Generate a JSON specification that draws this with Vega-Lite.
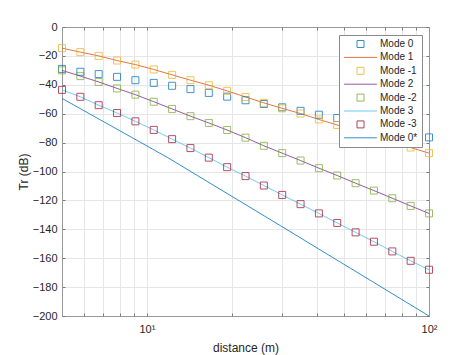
{
  "$schema": "https://vega.github.io/schema/vega-lite/v6.json",
  "width": 367,
  "height": 289,
  "autosize": {"type": "none"},
  "padding": {"left": 62, "top": 27, "right": 45, "bottom": 39},
  "background": "white",
  "config": {
    "view": {"stroke": null},
    "font": "Liberation Sans",
    "axis": {"labelFont": "Liberation Sans", "titleFont": "Liberation Sans", "labelColor": "#262626", "titleColor": "#262626", "titleFontWeight": "normal"}
  },
  "datasets": {
    "curves": [
      {"series": "Mode 0", "x": 5, "y": -29},
      {"series": "Mode 0", "x": 5.808, "y": -31},
      {"series": "Mode 0", "x": 6.746, "y": -32.6},
      {"series": "Mode 0", "x": 7.837, "y": -34.5},
      {"series": "Mode 0", "x": 9.103, "y": -36.8},
      {"series": "Mode 0", "x": 10.574, "y": -38.7},
      {"series": "Mode 0", "x": 12.282, "y": -40.7},
      {"series": "Mode 0", "x": 14.267, "y": -43},
      {"series": "Mode 0", "x": 16.572, "y": -45.6},
      {"series": "Mode 0", "x": 19.25, "y": -48.2},
      {"series": "Mode 0", "x": 22.361, "y": -50.7},
      {"series": "Mode 0", "x": 25.974, "y": -53.3},
      {"series": "Mode 0", "x": 30.171, "y": -55.6},
      {"series": "Mode 0", "x": 35.046, "y": -58},
      {"series": "Mode 0", "x": 40.709, "y": -60.7},
      {"series": "Mode 0", "x": 47.287, "y": -63},
      {"series": "Mode 0", "x": 54.928, "y": -65.5},
      {"series": "Mode 0", "x": 63.804, "y": -68.2},
      {"series": "Mode 0", "x": 74.114, "y": -71},
      {"series": "Mode 0", "x": 86.09, "y": -73.7},
      {"series": "Mode 0", "x": 100, "y": -76.4},

      {"series": "Mode 1", "x": 5, "y": -14.6},
      {"series": "Mode 1", "x": 5.808, "y": -17.4},
      {"series": "Mode 1", "x": 6.746, "y": -20},
      {"series": "Mode 1", "x": 7.837, "y": -23.2},
      {"series": "Mode 1", "x": 9.103, "y": -26},
      {"series": "Mode 1", "x": 10.574, "y": -29.4},
      {"series": "Mode 1", "x": 12.282, "y": -33.1},
      {"series": "Mode 1", "x": 14.267, "y": -36.8},
      {"series": "Mode 1", "x": 16.572, "y": -40.3},
      {"series": "Mode 1", "x": 19.25, "y": -44.2},
      {"series": "Mode 1", "x": 22.361, "y": -48.4},
      {"series": "Mode 1", "x": 25.974, "y": -52.5},
      {"series": "Mode 1", "x": 30.171, "y": -56.3},
      {"series": "Mode 1", "x": 35.046, "y": -59.9},
      {"series": "Mode 1", "x": 40.709, "y": -64},
      {"series": "Mode 1", "x": 47.287, "y": -67.8},
      {"series": "Mode 1", "x": 54.928, "y": -71.5},
      {"series": "Mode 1", "x": 63.804, "y": -75.3},
      {"series": "Mode 1", "x": 74.114, "y": -79.3},
      {"series": "Mode 1", "x": 86.09, "y": -83.4},
      {"series": "Mode 1", "x": 100, "y": -87.3},

      {"series": "Mode -1", "x": 5, "y": -14.6},
      {"series": "Mode -1", "x": 5.808, "y": -17.4},
      {"series": "Mode -1", "x": 6.746, "y": -20},
      {"series": "Mode -1", "x": 7.837, "y": -23.2},
      {"series": "Mode -1", "x": 9.103, "y": -26},
      {"series": "Mode -1", "x": 10.574, "y": -29.4},
      {"series": "Mode -1", "x": 12.282, "y": -33.1},
      {"series": "Mode -1", "x": 14.267, "y": -36.8},
      {"series": "Mode -1", "x": 16.572, "y": -40.3},
      {"series": "Mode -1", "x": 19.25, "y": -44.2},
      {"series": "Mode -1", "x": 22.361, "y": -48.4},
      {"series": "Mode -1", "x": 25.974, "y": -52.5},
      {"series": "Mode -1", "x": 30.171, "y": -56.3},
      {"series": "Mode -1", "x": 35.046, "y": -59.9},
      {"series": "Mode -1", "x": 40.709, "y": -64},
      {"series": "Mode -1", "x": 47.287, "y": -67.8},
      {"series": "Mode -1", "x": 54.928, "y": -71.5},
      {"series": "Mode -1", "x": 63.804, "y": -75.3},
      {"series": "Mode -1", "x": 74.114, "y": -79.3},
      {"series": "Mode -1", "x": 86.09, "y": -83.4},
      {"series": "Mode -1", "x": 100, "y": -87.3},

      {"series": "Mode 2", "x": 5, "y": -30},
      {"series": "Mode 2", "x": 5.808, "y": -34},
      {"series": "Mode 2", "x": 6.746, "y": -38},
      {"series": "Mode 2", "x": 7.837, "y": -42.5},
      {"series": "Mode 2", "x": 9.103, "y": -46.8},
      {"series": "Mode 2", "x": 10.574, "y": -51.7},
      {"series": "Mode 2", "x": 12.282, "y": -56.7},
      {"series": "Mode 2", "x": 14.267, "y": -61.7},
      {"series": "Mode 2", "x": 16.572, "y": -66.4},
      {"series": "Mode 2", "x": 19.25, "y": -71.3},
      {"series": "Mode 2", "x": 22.361, "y": -76.6},
      {"series": "Mode 2", "x": 25.974, "y": -82.2},
      {"series": "Mode 2", "x": 30.171, "y": -87.3},
      {"series": "Mode 2", "x": 35.046, "y": -92.4},
      {"series": "Mode 2", "x": 40.709, "y": -97.7},
      {"series": "Mode 2", "x": 47.287, "y": -102.8},
      {"series": "Mode 2", "x": 54.928, "y": -108.1},
      {"series": "Mode 2", "x": 63.804, "y": -113.2},
      {"series": "Mode 2", "x": 74.114, "y": -118.5},
      {"series": "Mode 2", "x": 86.09, "y": -123.8},
      {"series": "Mode 2", "x": 100, "y": -129},

      {"series": "Mode -2", "x": 5, "y": -30},
      {"series": "Mode -2", "x": 5.808, "y": -34},
      {"series": "Mode -2", "x": 6.746, "y": -38},
      {"series": "Mode -2", "x": 7.837, "y": -42.5},
      {"series": "Mode -2", "x": 9.103, "y": -46.8},
      {"series": "Mode -2", "x": 10.574, "y": -51.7},
      {"series": "Mode -2", "x": 12.282, "y": -56.7},
      {"series": "Mode -2", "x": 14.267, "y": -61.7},
      {"series": "Mode -2", "x": 16.572, "y": -66.4},
      {"series": "Mode -2", "x": 19.25, "y": -71.3},
      {"series": "Mode -2", "x": 22.361, "y": -76.6},
      {"series": "Mode -2", "x": 25.974, "y": -82.2},
      {"series": "Mode -2", "x": 30.171, "y": -87.3},
      {"series": "Mode -2", "x": 35.046, "y": -92.4},
      {"series": "Mode -2", "x": 40.709, "y": -97.7},
      {"series": "Mode -2", "x": 47.287, "y": -102.8},
      {"series": "Mode -2", "x": 54.928, "y": -108.1},
      {"series": "Mode -2", "x": 63.804, "y": -113.2},
      {"series": "Mode -2", "x": 74.114, "y": -118.5},
      {"series": "Mode -2", "x": 86.09, "y": -123.8},
      {"series": "Mode -2", "x": 100, "y": -129},

      {"series": "Mode 3", "x": 5, "y": -43.5},
      {"series": "Mode 3", "x": 5.808, "y": -48.3},
      {"series": "Mode 3", "x": 6.746, "y": -54.1},
      {"series": "Mode 3", "x": 7.837, "y": -59.5},
      {"series": "Mode 3", "x": 9.103, "y": -65.3},
      {"series": "Mode 3", "x": 10.574, "y": -71.2},
      {"series": "Mode 3", "x": 12.282, "y": -77.6},
      {"series": "Mode 3", "x": 14.267, "y": -83.8},
      {"series": "Mode 3", "x": 16.572, "y": -90.4},
      {"series": "Mode 3", "x": 19.25, "y": -97},
      {"series": "Mode 3", "x": 22.361, "y": -103.2},
      {"series": "Mode 3", "x": 25.974, "y": -109.7},
      {"series": "Mode 3", "x": 30.171, "y": -116.2},
      {"series": "Mode 3", "x": 35.046, "y": -122.6},
      {"series": "Mode 3", "x": 40.709, "y": -129},
      {"series": "Mode 3", "x": 47.287, "y": -135.6},
      {"series": "Mode 3", "x": 54.928, "y": -142.1},
      {"series": "Mode 3", "x": 63.804, "y": -148.6},
      {"series": "Mode 3", "x": 74.114, "y": -155.3},
      {"series": "Mode 3", "x": 86.09, "y": -161.8},
      {"series": "Mode 3", "x": 100, "y": -168},

      {"series": "Mode -3", "x": 5, "y": -43.5},
      {"series": "Mode -3", "x": 5.808, "y": -48.3},
      {"series": "Mode -3", "x": 6.746, "y": -54.1},
      {"series": "Mode -3", "x": 7.837, "y": -59.5},
      {"series": "Mode -3", "x": 9.103, "y": -65.3},
      {"series": "Mode -3", "x": 10.574, "y": -71.2},
      {"series": "Mode -3", "x": 12.282, "y": -77.6},
      {"series": "Mode -3", "x": 14.267, "y": -83.8},
      {"series": "Mode -3", "x": 16.572, "y": -90.4},
      {"series": "Mode -3", "x": 19.25, "y": -97},
      {"series": "Mode -3", "x": 22.361, "y": -103.2},
      {"series": "Mode -3", "x": 25.974, "y": -109.7},
      {"series": "Mode -3", "x": 30.171, "y": -116.2},
      {"series": "Mode -3", "x": 35.046, "y": -122.6},
      {"series": "Mode -3", "x": 40.709, "y": -129},
      {"series": "Mode -3", "x": 47.287, "y": -135.6},
      {"series": "Mode -3", "x": 54.928, "y": -142.1},
      {"series": "Mode -3", "x": 63.804, "y": -148.6},
      {"series": "Mode -3", "x": 74.114, "y": -155.3},
      {"series": "Mode -3", "x": 86.09, "y": -161.8},
      {"series": "Mode -3", "x": 100, "y": -168},

      {"series": "Mode 0*", "x": 5, "y": -49.4},
      {"series": "Mode 0*", "x": 11.88, "y": -90.5},
      {"series": "Mode 0*", "x": 29.74, "y": -137.5},
      {"series": "Mode 0*", "x": 100, "y": -200}
    ]
  },
  "data": {"name": "curves"},
  "layer": [
    {
      "transform": [{"filter": {"field": "series", "oneOf": ["Mode 1", "Mode 2", "Mode 3", "Mode 0*"]}}],
      "mark": {"type": "line", "strokeWidth": 1, "opacity": 0.8, "clip": true},
      "encoding": {
        "x": {
          "field": "x", "type": "quantitative",
          "scale": {"type": "log", "domain": [5, 100], "nice": false},
          "axis": {
            "orient": "bottom",
            "values": [6, 7, 8, 9, 10, 20, 30, 40, 50, 60, 70, 80, 90, 100],
            "labelExpr": "datum.value == 10 ? '10¹' : (datum.value == 100 ? '10²' : '')",
            "labelFlush": false, "labelOverlap": false,
            "labelFontSize": 11, "labelPadding": 10, "tickSize": -3, "tickColor": "#777777",
            "domainColor": "#999999", "grid": true, "gridColor": "#e6e6e6",
            "title": "distance (m)", "titleFontSize": 12, "titleY": 35.5, "titleBaseline": "alphabetic"
          }
        },
        "y": {
          "field": "y", "type": "quantitative",
          "scale": {"domain": [-200, 0], "nice": false, "zero": false},
          "axis": {
            "orient": "left",
            "values": [-200, -180, -160, -140, -120, -100, -80, -60, -40, -20, 0],
            "labelFontSize": 11, "labelPadding": 8, "tickSize": -3, "tickColor": "#777777",
            "domainColor": "#999999", "grid": true, "gridColor": "#e6e6e6",
            "title": "Tr (dB)", "titleFontSize": 12, "titleX": -39, "titleY": 144.5, "titleBaseline": "middle"
          }
        },
        "stroke": {
          "field": "series", "type": "nominal", "legend": null,
          "scale": {
            "domain": ["Mode 1", "Mode 2", "Mode 3", "Mode 0*"],
            "range": ["#D95319", "#7E2F8E", "#4DBEEE", "#0072BD"]
          }
        },
        "detail": {"field": "series"}
      }
    },
    {
      "transform": [{"filter": {"field": "series", "oneOf": ["Mode 0", "Mode -1", "Mode -2", "Mode -3"]}}],
      "mark": {"type": "point", "filled": false, "size": 49, "strokeWidth": 1, "opacity": 0.75},
      "encoding": {
        "x": {
          "field": "x", "type": "quantitative",
          "scale": {"type": "log", "domain": [5, 100], "nice": false},
          "axis": {
            "orient": "top",
            "values": [6, 7, 8, 9, 10, 20, 30, 40, 50, 60, 70, 80, 90, 100],
            "labels": false, "tickSize": -3, "tickColor": "#777777",
            "domainColor": "#999999", "grid": false, "title": null
          }
        },
        "y": {
          "field": "y", "type": "quantitative",
          "scale": {"domain": [-200, 0], "nice": false, "zero": false},
          "axis": {
            "orient": "right",
            "values": [-200, -180, -160, -140, -120, -100, -80, -60, -40, -20, 0],
            "labels": false, "tickSize": -3, "tickColor": "#777777",
            "domainColor": "#999999", "grid": false, "title": null
          }
        },
        "color": {
          "field": "series", "type": "nominal",
          "scale": {
            "domain": ["Mode 0", "Mode 1", "Mode -1", "Mode 2", "Mode -2", "Mode 3", "Mode -3", "Mode 0*"],
            "range": ["#0072BD", "#D95319", "#EDB120", "#7E2F8E", "#77AC30", "#4DBEEE", "#A2142F", "#0072BD"]
          },
          "legend": {
            "title": null, "orient": "none", "legendX": 277, "legendY": 8,
            "fillColor": "white", "strokeColor": "#8a8a8a", "padding": 4,
            "labelFont": "Liberation Sans", "labelFontSize": 10, "labelColor": "#262626",
            "symbolSize": 49, "symbolStrokeWidth": 1, "symbolOpacity": 0.8, "symbolOffset": 12.5,
            "labelOffset": 14.5, "rowPadding": 2.4, "zindex": 2
          }
        },
        "shape": {
          "field": "series", "type": "nominal",
          "scale": {
            "domain": ["Mode 0", "Mode 1", "Mode -1", "Mode 2", "Mode -2", "Mode 3", "Mode -3", "Mode 0*"],
            "range": ["square", "M-4.7,0H4.7", "square", "M-4.7,0H4.7", "square", "M-4.7,0H4.7", "square", "M-4.7,0H4.7"]
          },
          "legend": {
            "title": null, "orient": "none", "legendX": 277, "legendY": 8,
            "fillColor": "white", "strokeColor": "#8a8a8a", "padding": 4,
            "labelFont": "Liberation Sans", "labelFontSize": 10, "labelColor": "#262626",
            "symbolSize": 49, "symbolStrokeWidth": 1, "symbolOpacity": 0.8, "symbolOffset": 12.5,
            "labelOffset": 14.5, "rowPadding": 2.4, "zindex": 2
          }
        }
      }
    }
  ],
  "resolve": {"axis": {"x": "independent", "y": "independent"}}
}
